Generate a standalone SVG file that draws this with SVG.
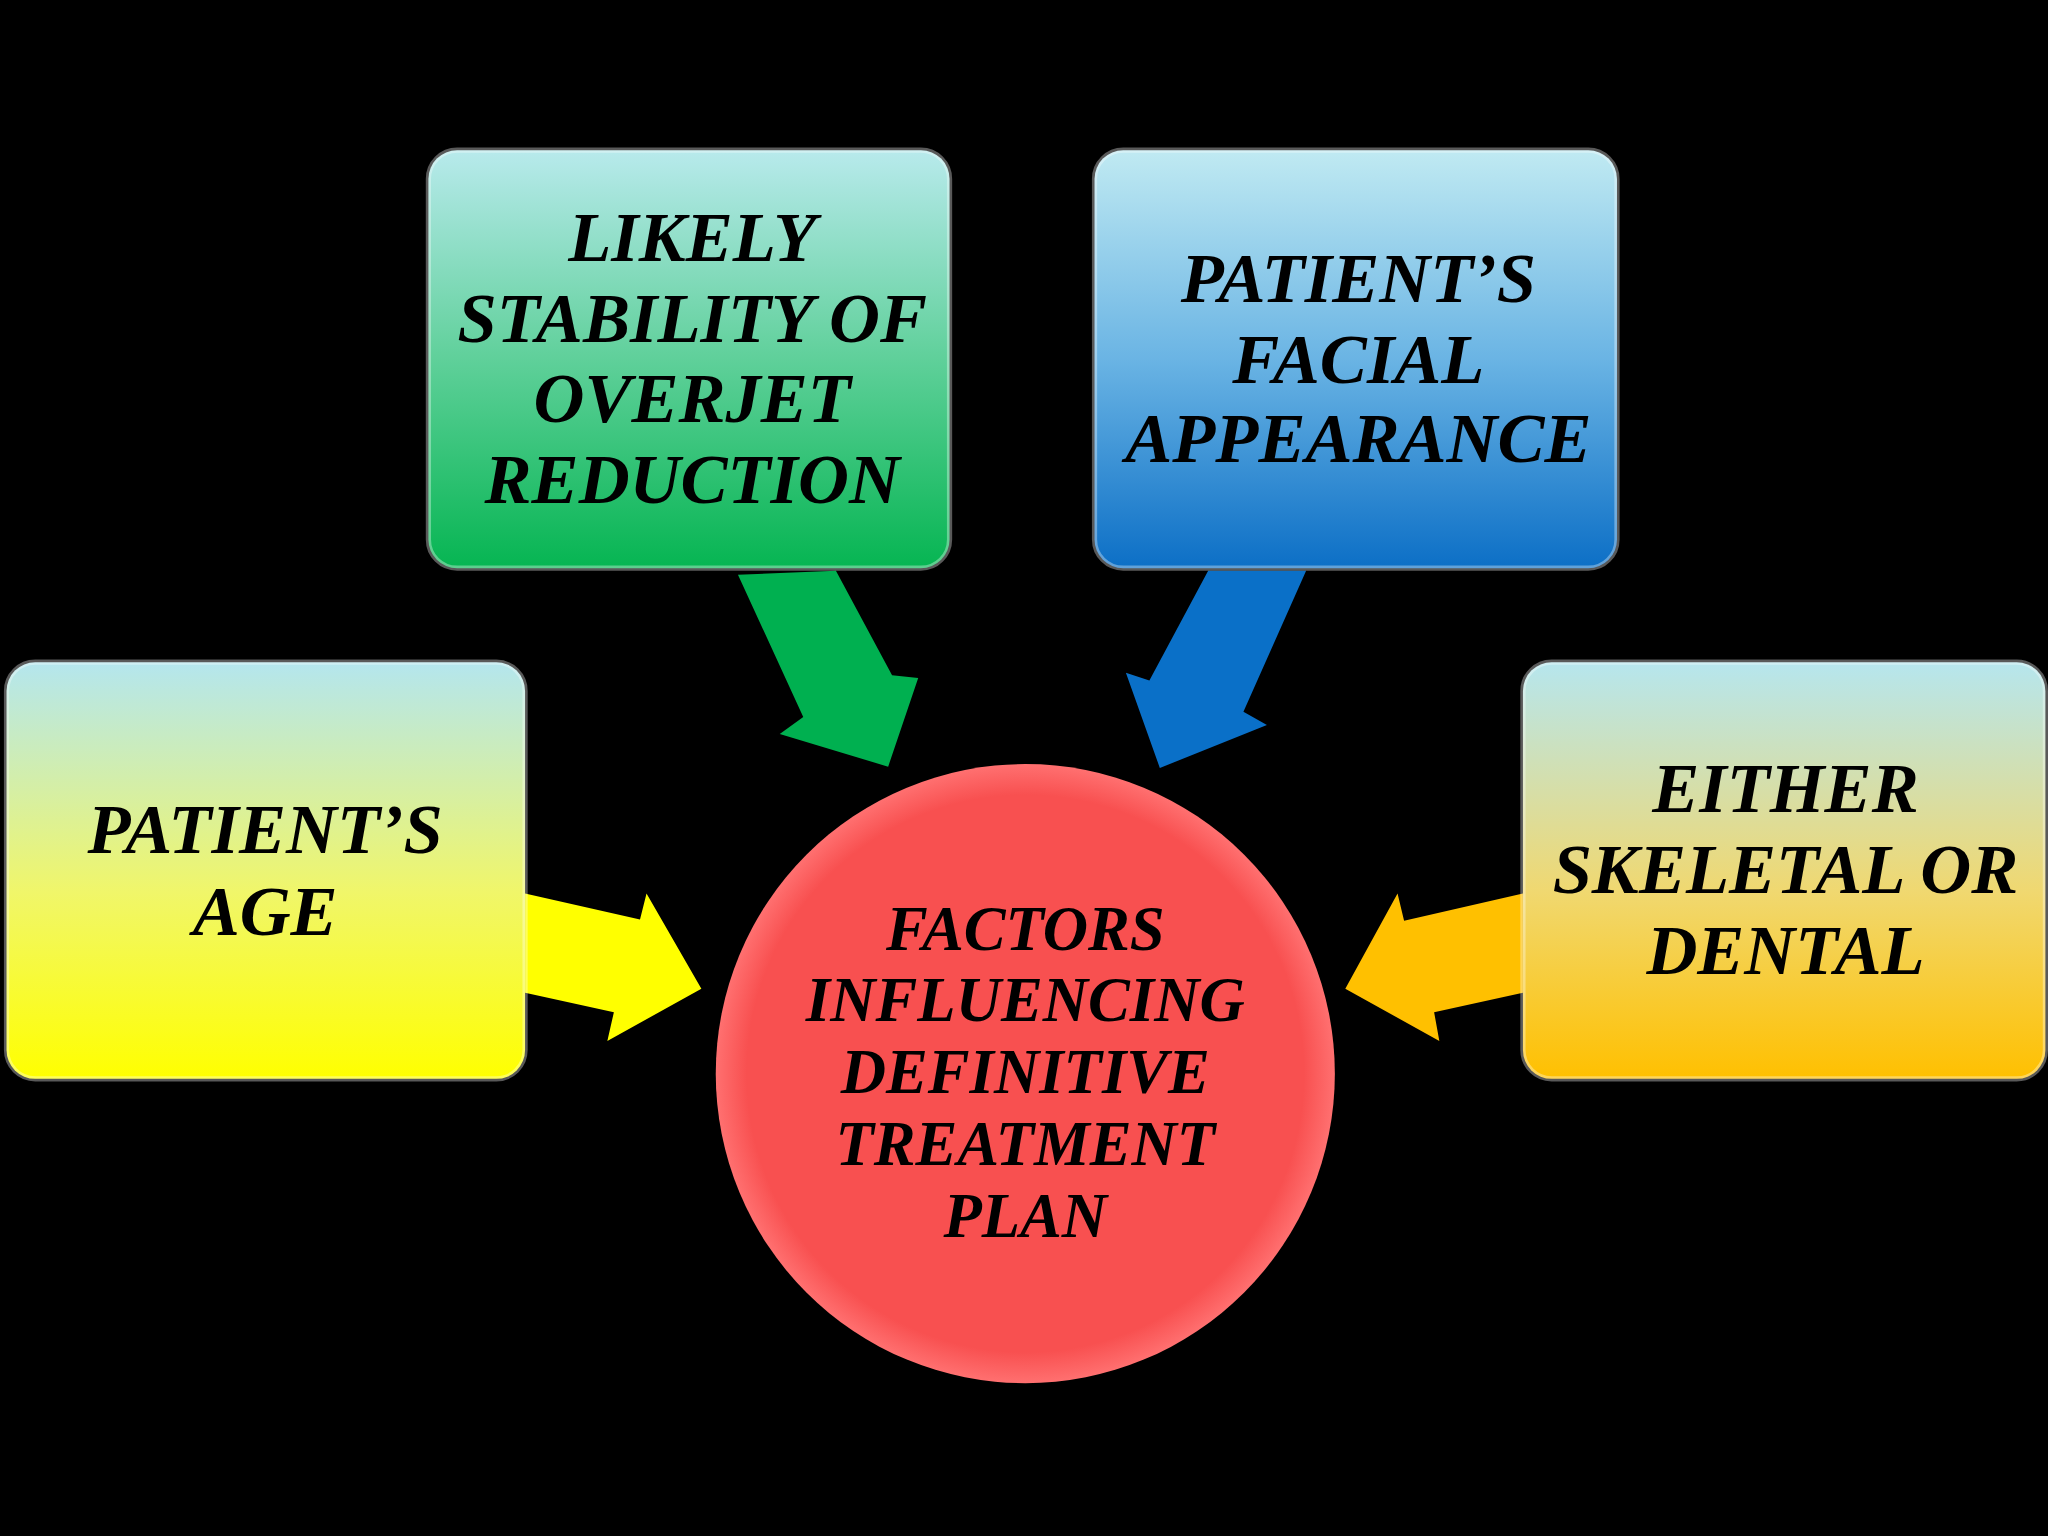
<svg xmlns="http://www.w3.org/2000/svg" width="2048" height="1536" viewBox="0 0 2048 1536">
<defs>
<linearGradient id="gY" x1="0" y1="0" x2="0" y2="1"><stop offset="0" stop-color="#b4e6ee"/><stop offset="0.55" stop-color="#f0f66a"/><stop offset="1" stop-color="#ffff00"/></linearGradient>
<linearGradient id="gG" x1="0" y1="0" x2="0" y2="1"><stop offset="0" stop-color="#b8eaec"/><stop offset="0.5" stop-color="#5fd09a"/><stop offset="1" stop-color="#06b552"/></linearGradient>
<linearGradient id="gB" x1="0" y1="0" x2="0" y2="1"><stop offset="0" stop-color="#c0eaf2"/><stop offset="0.5" stop-color="#6ab4e4"/><stop offset="1" stop-color="#0c6fc6"/></linearGradient>
<linearGradient id="gO" x1="0" y1="0" x2="0" y2="1"><stop offset="0" stop-color="#b6e6ee"/><stop offset="0.55" stop-color="#f0d870"/><stop offset="1" stop-color="#ffc000"/></linearGradient>
<radialGradient id="gR" cx="0.5" cy="0.5" r="0.5"><stop offset="0.9" stop-color="#f85050"/><stop offset="1" stop-color="#ff7070"/></radialGradient>
<style>
.box{stroke:#ffffff;stroke-opacity:0.35;stroke-width:4}
.t{font-family:"Liberation Serif","DejaVu Serif",serif;font-weight:bold;font-style:italic;font-size:54px;fill:#000;text-anchor:middle}
.c{font-size:48px}
</style>
</defs>
<rect width="2048" height="1536" fill="#000"/>
<g transform="scale(1.30612)">
<g id="connectors">
<polygon fill="#ffff00" points="402,684 490,704 495,684 537,757 465,797 470,775 402,760"/>
<polygon fill="#00b050" points="565,440 640,437 683,517 703,519 680,587 597,562 615,549"/>
<polygon fill="#0a70c8" points="925,437 1000,437 952,545 970,555 888,588 862,515 880,521"/>
<polygon fill="#ffc000" points="1166,684 1075,705 1070,684 1030,757 1102,797 1098,775 1166,760"/>
</g>
<g id="age"><rect class="box" x="5" y="507" width="397" height="319" rx="22" fill="url(#gY)"/>
<text class="t" x="203" y="653">PATIENT’S</text><text class="t" x="203" y="716">AGE</text></g>
<g id="stability"><rect class="box" x="328" y="115" width="399" height="320" rx="22" fill="url(#gG)"/>
<text class="t" x="530" y="200">LIKELY</text><text class="t" x="530" y="262">STABILITY OF</text><text class="t" x="530" y="323">OVERJET</text><text class="t" x="530" y="385">REDUCTION</text></g>
<g id="facial"><rect class="box" x="838" y="115" width="400" height="320" rx="22" fill="url(#gB)"/>
<text class="t" x="1040" y="231">PATIENT’S</text><text class="t" x="1040" y="293">FACIAL</text><text class="t" x="1040" y="354">APPEARANCE</text></g>
<g id="skeletal"><rect class="box" x="1166" y="507" width="400" height="319" rx="22" fill="url(#gO)"/>
<text class="t" x="1367" y="622">EITHER</text><text class="t" x="1367" y="684">SKELETAL OR</text><text class="t" x="1367" y="746">DENTAL</text></g>
<g id="center"><circle cx="785" cy="822" r="237" fill="url(#gR)"/>
<text class="t c" x="785" y="727">FACTORS</text><text class="t c" x="785" y="782">INFLUENCING</text><text class="t c" x="785" y="837">DEFINITIVE</text><text class="t c" x="785" y="892">TREATMENT</text><text class="t c" x="785" y="947">PLAN</text></g>
</g>
</svg>
